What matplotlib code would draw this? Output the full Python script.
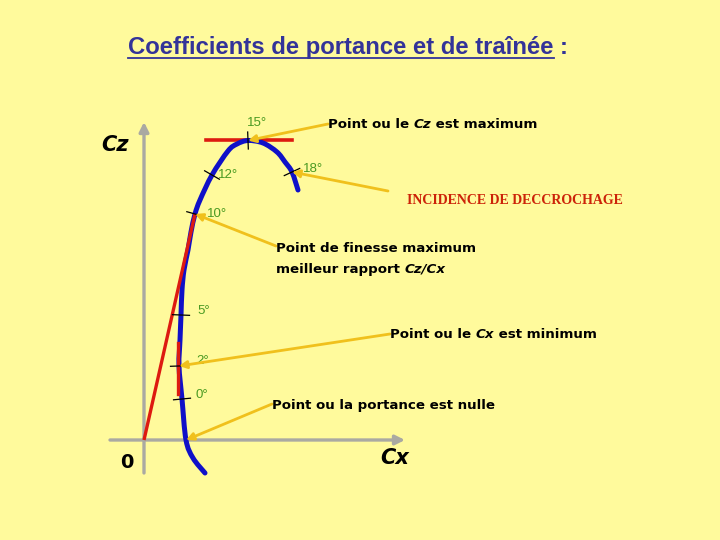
import numpy as np
import matplotlib
matplotlib.use("Agg")
import matplotlib.pyplot as plt
from matplotlib.path import Path
from matplotlib.patches import PathPatch

# ---------------- data (Cx, Cz polar of a wing) ----------------
curve_cx = [0.061, 0.049, 0.042, 0.038, 0.035, 0.036, 0.037, 0.038, 0.040, 0.044, 0.047,
            0.051, 0.056, 0.068, 0.084, 0.093, 0.104, 0.119, 0.133, 0.141, 0.148, 0.154]
curve_cz = [-0.165, -0.09, 0.0, 0.205, 0.37, 0.50, 0.625, 0.75, 0.85, 0.95, 1.04,
            1.13, 1.20, 1.325, 1.445, 1.48, 1.4975, 1.485, 1.44, 1.39, 1.34, 1.25]

angle_labels = ['0°', '2°', '5°', '10°', '12°', '15°', '18°']
angle_cx = [0.038, 0.035, 0.037, 0.051, 0.068, 0.104, 0.148]
angle_cz = [0.205, 0.37, 0.625, 1.13, 1.325, 1.4975, 1.34]
# label offsets in pixels (dx right, dy down)
label_dx = [14, 17, 16, 12, 6, -1, 11]
label_dy = [-4, -5, -4, 0, 0, -18, -3]

zero_lift = (0.042, 0.0)
cz_max_line_cx = [0.062, 0.148]
cz_max_value = 1.50
cx_min_line_cx = [0.034, 0.034]
cx_min_line_cz = [0.23, 0.485]

BG = '#fffa9c'
GOLD = '#f0c01c'
RED = '#dd1a10'
BLUE = '#1010c8'
GRAY = '#aaa9a2'
GREEN = '#4a9a22'

W, H = 720, 540
fig = plt.figure(figsize=(7.2, 5.4), dpi=100, facecolor=BG)
ax = fig.add_axes([0, 0, 1, 1])
ax.set_facecolor(BG)
ax.set_xlim(-0.144, 0.576)
ax.set_ylim(-0.5, 2.2)
ax.axis('off')


def fp(x, y):
    return (x / W, 1 - y / H)


def smooth_path(xs, ys):
    """Catmull-Rom curve through the points, as cubic Bezier segments."""
    P = np.column_stack([xs, ys]).astype(float)
    P_ext = np.vstack([P[0], P, P[-1]])
    verts = [P[0]]
    codes = [Path.MOVETO]
    for i in range(1, len(P_ext) - 2):
        p0, p1, p2, p3 = P_ext[i - 1], P_ext[i], P_ext[i + 1], P_ext[i + 2]
        c1 = p1 + (p2 - p0) / 6.0
        c2 = p2 - (p3 - p1) / 6.0
        verts += [c1, c2, p2]
        codes += [Path.CURVE4] * 3
    return Path(verts, codes)


# axes of the polar
ax.annotate('', xy=(0, 1.59), xytext=(0, -0.165),
            arrowprops=dict(arrowstyle='-|>', color=GRAY, lw=2.4,
                            mutation_scale=14, shrinkA=0, shrinkB=0))
ax.annotate('', xy=(0.261, 0), xytext=(-0.034, 0),
            arrowprops=dict(arrowstyle='-|>', color=GRAY, lw=2.4,
                            mutation_scale=14, shrinkA=0, shrinkB=0))

i10 = angle_labels.index('10°')
# blue polar curve
ax.add_patch(PathPatch(smooth_path(curve_cx, curve_cz), facecolor='none', edgecolor=BLUE,
                       lw=3.6, capstyle='round', joinstyle='round', zorder=4))
# red tangent from origin to 10 deg point (finesse max)
ax.plot([0, angle_cx[i10]], [0, angle_cz[i10]], color=RED, lw=2.4,
        solid_capstyle='butt', zorder=5)
# red horizontal at Cz max
ax.plot(cz_max_line_cx, [cz_max_value, cz_max_value], color=RED, lw=2.6, zorder=3)
# red vertical at Cx min
ax.plot(cx_min_line_cx, cx_min_line_cz, color=RED, lw=2.4, zorder=5)

# tick marks perpendicular to the curve + labels
T = ax.transData
pts_disp = T.transform(np.column_stack([curve_cx, curve_cz]))
for lab, cx, cz, dx, dy in zip(angle_labels, angle_cx, angle_cz, label_dx, label_dy):
    p = T.transform((cx, cz))
    d = np.hypot(*(pts_disp - p).T)
    i = int(np.argmin(d))
    a = pts_disp[max(i - 1, 0)]
    b = pts_disp[min(i + 1, len(pts_disp) - 1)]
    t = (b - a) / np.hypot(*(b - a))
    n = np.array([-t[1], t[0]])
    half = 8.5
    q = T.inverted().transform(np.array([p - n * half, p + n * half]))
    ax.plot(q[:, 0], q[:, 1], color='black', lw=0.9, zorder=6)
    ax.annotate(lab, xy=(cx, cz), xytext=(dx, -dy), textcoords='offset pixels',
                ha='left', va='center', fontsize=9.5, color=GREEN,
                family='Liberation Sans', zorder=7)

# yellow annotation arrows
arrows = [
    ((328, 124), (angle_cx[angle_labels.index('15°')], angle_cz[angle_labels.index('15°')])),
    ((388, 191), (angle_cx[angle_labels.index('18°')], angle_cz[angle_labels.index('18°')])),
    ((276, 246), (angle_cx[i10], angle_cz[i10])),
    ((390, 334), (angle_cx[angle_labels.index('2°')], angle_cz[angle_labels.index('2°')])),
    ((272, 404), zero_lift),
]
for (sx, sy), target in arrows:
    ax.annotate('', xy=target, xytext=fp(sx, sy), textcoords='figure fraction',
                arrowprops=dict(arrowstyle='-|>', color=GOLD, lw=2.0,
                                mutation_scale=11, shrinkA=0, shrinkB=0),
                zorder=8)

# black texts (with italic Cz / Cx pieces)
renderer = fig.canvas.get_renderer()


def rich_text(x, y, segments, size=9.6):
    """segments: list of (string, italic?) drawn one after the other."""
    cur = x
    for s, it in segments:
        kw = dict(fontsize=size, fontweight='bold', color='black', family='DejaVu Sans',
                  style='italic' if it else 'normal', va='center', ha='left')
        fig.text(cur / W, 1 - y / H, s, **kw)
        probe = fig.text(0, 0, s + '|', **kw)
        bar = fig.text(0, 0, '|', **kw)
        adv = probe.get_window_extent(renderer).width - bar.get_window_extent(renderer).width
        probe.remove()
        bar.remove()
        cur += adv


rich_text(328, 125, [('Point ou le ', False), ('Cz', True), (' est maximum', False)])
rich_text(276, 249, [('Point de finesse maximum', False)])
rich_text(276, 269, [('meilleur rapport ', False), ('Cz/Cx', True)])
rich_text(390, 334, [('Point ou le ', False), ('Cx', True), (' est minimum', False)])
rich_text(272, 405, [('Point ou la portance est nulle', False)])

fig.text(*fp(407, 201), 'INCIDENCE DE DECCROCHAGE', fontsize=10, fontweight='bold',
         color='#cc2208', family='Liberation Serif', ha='left', va='center')

fig.text(*fp(115, 145), 'Cz', fontsize=15, fontweight='bold', style='italic',
         family='DejaVu Sans', ha='center', va='center')
fig.text(*fp(395, 458), 'Cx', fontsize=15, fontweight='bold', style='italic',
         family='DejaVu Sans', ha='center', va='center')
fig.text(*fp(127, 462), '0', fontsize=14, fontweight='bold',
         family='DejaVu Sans', ha='center', va='center')

# title with underline
title = fig.text(*fp(128, 54), 'Coefficients de portance et de traînée', fontsize=17.2,
                 fontweight='bold', color='#333399', family='Liberation Sans',
                 ha='left', va='baseline')
bb = title.get_window_extent(renderer)
x0, x1 = bb.x0, bb.x1
uy = H - 58
fig.add_artist(plt.Line2D([x0 / W, x1 / W], [uy / H, uy / H], color='#333399', lw=1.3,
                          transform=fig.transFigure))
fig.text((x1 + 6) / W, 1 - 54 / H, ':', fontsize=17.2, fontweight='bold', color='#333399',
         family='Liberation Sans', ha='left', va='baseline')

fig.savefig('out.png', dpi=100, facecolor=BG)
